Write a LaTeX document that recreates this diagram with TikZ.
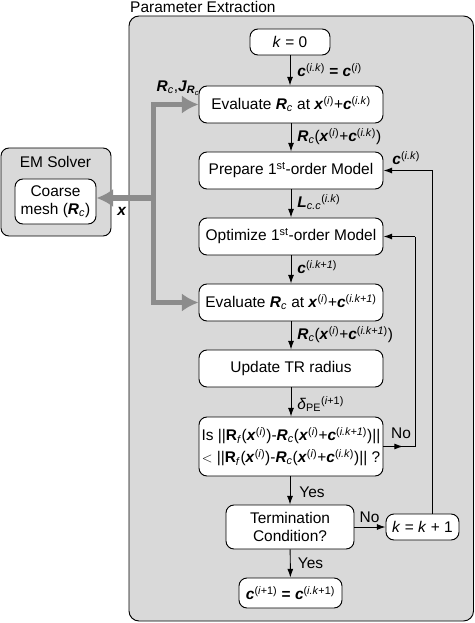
\documentclass[tikz,border=0pt]{standalone}
\usepackage{fontspec}
\setmainfont{Liberation Sans}
\usetikzlibrary{arrows.meta}
\newcommand{\bi}[1]{\textbf{\textit{#1}}}
\newcommand{\up}[1]{\textsuperscript{\normalfont(\textit{#1})}}
\tikzset{
	box/.style={draw, line width=0.8pt, rounded corners=0.24cm, fill=white, align=center, inner sep=0pt},
	wbox/.style={box, minimum width=5.52cm, minimum height=1.11cm},
	flow/.style={line width=0.8pt, -{Latex[length=0.26cm,width=0.18cm]}},
	bus/.style={line width=0.15cm, draw=black!45, -{Latex[length=0.5cm,width=0.55cm]}},
	lab/.style={anchor=west, inner sep=1pt},
}

\begin{document}
\begin{tikzpicture}[x=0.03cm, y=-0.03cm, font=\fontsize{13.2}{15.5}\selectfont]
	%%%%% START %%%%%
	\useasboundingbox (0,0) rectangle (474,623);

	% frames
	\node[anchor=west, inner sep=0pt] (title) at (130,7) {Parameter Extraction};
	\draw[line width=0.8pt, fill=black!15, rounded corners=0.3cm] (129,16) rectangle (473.5,621);
	\draw[line width=0.8pt, fill=black!15, rounded corners=0.24cm] (1,148) rectangle (111,236);
	\node (em) at (55.5,162) {EM Solver};
	\node[box, minimum width=2.43cm, minimum height=1.35cm] (coarse) at (55.5,201.5) {Coarse\\mesh (\bi{R}\textsubscript{\textit{c}})};

	% flow
	\node[box, minimum width=2.4cm, minimum height=0.78cm] (k0) at (290,42) {\textit{k} = 0};
	\node[wbox] (ev1) at (291,104.5) {Evaluate \bi{R}\textsubscript{\textit{c}} at \bi{x}\up{i}+\bi{c}\up{i.k}};
	\node[wbox] (prep) at (291,170.5) {Prepare 1\textsuperscript{st}-order Model};
	\node[wbox] (opt) at (291,236.5) {Optimize 1\textsuperscript{st}-order Model};
	\node[wbox] (ev2) at (291,302.5) {Evaluate \bi{R}\textsubscript{\textit{c}} at \bi{x}\up{i}+\bi{c}\up{i.k+1}};
	\node[wbox] (upd) at (291,368.5) {Update TR radius};
	\node[wbox, minimum height=1.77cm] (isb) at (291,446.5) {Is ||\textbf{R}\textsubscript{\textit{f}}(\bi{x}\up{i})-\bi{R}\textsubscript{\textit{c}}(\bi{x}\up{i}+\bi{c}\up{i.k+1})||\\[3pt] $<$ ||\textbf{R}\textsubscript{\textit{f}}(\bi{x}\up{i})-\bi{R}\textsubscript{\textit{c}}(\bi{x}\up{i}+\bi{c}\up{i.k})|| ?};
	\node[box, minimum width=3.84cm, minimum height=1.32cm] (term) at (290,527) {Termination\\Condition?};
	\node[box, minimum width=2.19cm, minimum height=0.78cm] (knew) at (422.5,527) {\textit{k} = \textit{k} + 1};
	\node[box, minimum width=3.09cm, minimum height=0.9cm] (cnew) at (290.5,593) {\bi{c}\textsuperscript{(\textit{i}+1)} \textbf{=} \bi{c}\textsuperscript{(\textit{i.k}+1)}};

	\draw[flow] (k0) -- (k0 |- ev1.north);
	\draw[flow] (ev1) -- (prep);
	\draw[flow] (prep) -- (opt);
	\draw[flow] (opt) -- (ev2);
	\draw[flow] (ev2) -- (upd);
	\draw[flow] (upd) -- (isb);
	\draw[flow] (isb.south -| term) -- (term);
	\draw[flow] (term) -- (cnew);
	\draw[flow] (term) -- (knew);

	% loops back
	\coordinate (fbk) at (432,170.5);
	\coordinate (fbno) at (415,236.5);
	\coordinate (nomid) at (403,446.5);
	\draw[flow] (fbk |- knew.north) -- (fbk) -- (prep.east);
	\draw[line width=0.8pt] (isb.east) -| (fbno);
	\draw[flow] (fbno) -- (opt.east);
	\draw[flow] (isb.east) -- (nomid);

	% edge labels
	\node[lab] (l1) at (296,70) {\bi{c}\up{i.k} \textbf{=} \bi{c}\up{i}};
	\node[lab] (l2) at (296,137) {\bi{R}\textsubscript{\textit{c}}(\bi{x}\up{i}+\bi{c}\up{i.k})};
	\node[lab] (l3) at (296,202) {\bi{L}\textsubscript{\textit{c.c}}\up{i.k}};
	\node[lab] (l4) at (296,267) {\bi{c}\up{i.k+1}};
	\node[lab] (l5) at (296,335) {\bi{R}\textsubscript{\textit{c}}(\bi{x}\up{i}+\bi{c}\up{i.k+1})};
	\node[lab] (l6) at (296,404) {\textit{δ}\textsubscript{PE}\textsuperscript{(\textit{i}+1)}};
	\node[lab] (l7) at (391,158) {\bi{c}\up{i.k}};
	\node (yes1) at (312,492) {Yes};
	\node (yes2) at (310.5,563) {Yes};
	\node (no1) at (401,433) {No};
	\node (no2) at (369.5,517) {No};

	% solver link
	\coordinate (jtop) at (153,104.5);
	\coordinate (jmid) at (153,198);
	\coordinate (jbot) at (153,302.5);
	\draw[bus] (jmid) -- (jtop) -- (ev1.west);
	\draw[bus] (jmid) -- (jbot) -- (ev2.west);
	\draw[bus] (jmid) -- (coarse.east |- jmid);
	\node[anchor=east, inner sep=0pt] (rj) at (200,88) {\bi{R}\textsubscript{\textit{c}},\bi{J}\textsubscript{\bi{R}\textsubscript{\textit{c}}}};
	\node (xl) at (122,211) {\bi{x}};

	%%%%% END %%%%%
\end{tikzpicture}
\end{document}
